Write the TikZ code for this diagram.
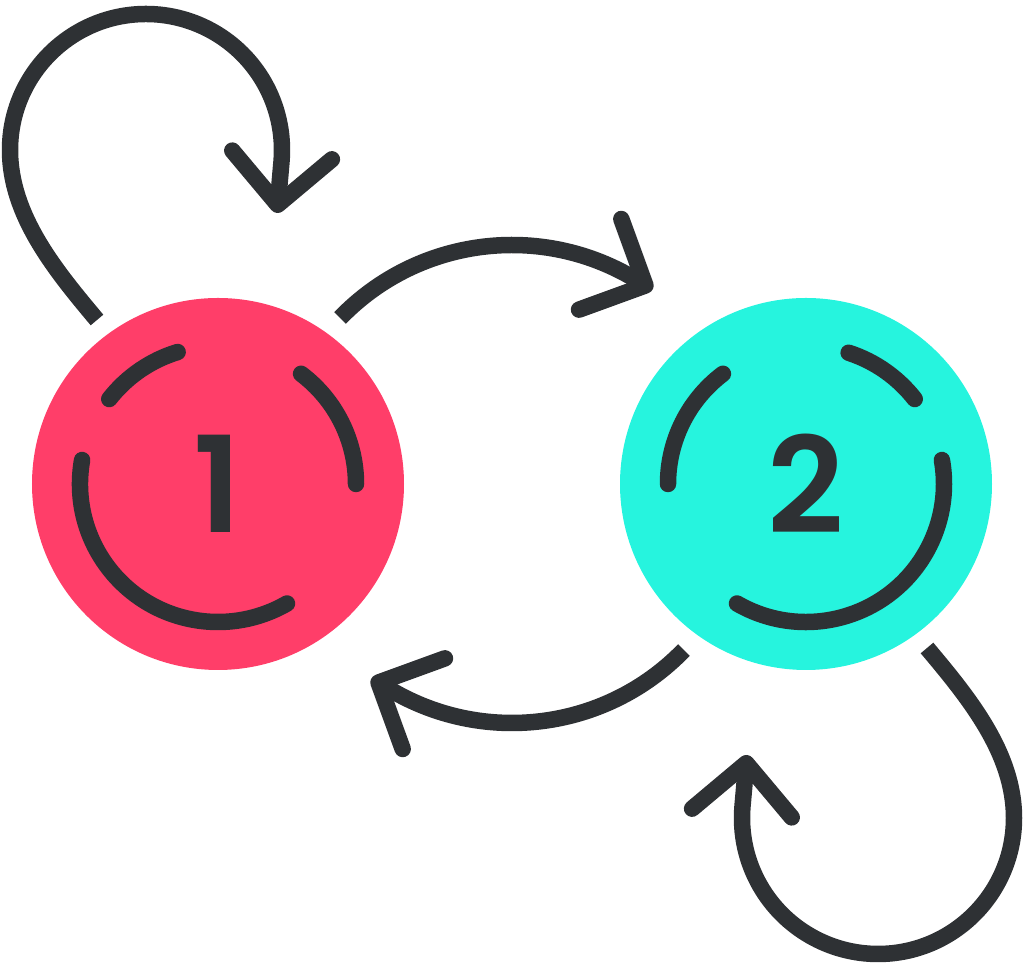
\documentclass[tikz,border=0pt]{standalone}
\usepackage{fontspec}
\newfontfamily\statefont{Poppins SemiBold}
\definecolor{markovred}{RGB}{255, 62, 105}
\definecolor{markovcyan}{RGB}{38, 244, 222}
\definecolor{markovgray}{RGB}{46, 49, 52}
\usetikzlibrary{arrows.meta, calc}

\begin{document}
\begin{tikzpicture}[
    state/.style={circle, minimum size=3.72cm, inner sep=0pt, text=markovgray,
        font=\statefont\fontsize{38}{38}\selectfont},
    ring/.style={draw=markovgray, line width=0.165cm, line cap=round},
    flow/.style={draw=markovgray, line width=0.165cm,
        -{Straight Barb[length=5mm, width=10mm, round]}}
]
    \useasboundingbox (0,0) rectangle (10.24,9.70);

    % States
    \node[state, fill=markovred] (one) at (2.18,4.86) {1};
    \node[state, fill=markovcyan] (two) at (8.06,4.86) {2};
    \coordinate (mid) at ($(one)!0.5!(two)$);

    % Dashed rings
    \draw[ring] ([shift={(170:1.38)}]one.center) arc[start angle=170, end angle=300, radius=1.38];
    \draw[ring] ([shift={(107:1.38)}]one.center) arc[start angle=107, end angle=142, radius=1.38];
    \draw[ring] ([shift={(0:1.38)}]one.center) arc[start angle=0, end angle=53, radius=1.38];

    \draw[ring] ([shift={(-120:1.38)}]two.center) arc[start angle=-120, end angle=10, radius=1.38];
    \draw[ring] ([shift={(38:1.38)}]two.center) arc[start angle=38, end angle=72, radius=1.38];
    \draw[ring] ([shift={(127:1.38)}]two.center) arc[start angle=127, end angle=180, radius=1.38];

    % Self loops
    \coordinate (oneout) at ([shift={(-1.21,1.64)}]one.center);
    \coordinate (onein) at (2.77,7.57);
    \draw[flow] (oneout) .. controls (0.55,7.00) and (0.10,7.55) .. (0.10,8.20)
        arc[start angle=180, end angle=-5, radius=1.36] -- (onein);

    \coordinate (twoout) at ([shift={(1.21,-1.64)}]two.center);
    \coordinate (twoin) at (7.47,2.15);
    \draw[flow] (twoout) .. controls (9.69,2.72) and (10.14,2.17) .. (10.14,1.52)
        arc[start angle=360, end angle=175, radius=1.36] -- (twoin);

    % Transitions
    \draw[flow] ([shift={(136:2.39)}]mid) arc[start angle=136, end angle=56.5, radius=2.39] -- ++(-25:0.1);
    \draw[flow] ([shift={(316:2.39)}]mid) arc[start angle=316, end angle=236.5, radius=2.39] -- ++(155:0.1);
\end{tikzpicture}
\end{document}
